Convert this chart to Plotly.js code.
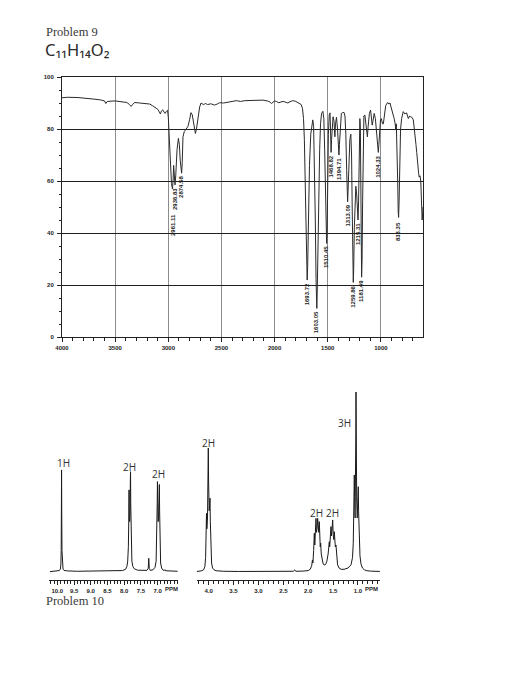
<!DOCTYPE html>
<html>
<head>
<meta charset="utf-8">
<script src="https://cdn.plot.ly/plotly-3.0.1.min.js"></script>
<style>
  html, body { margin: 0; padding: 0; background: #ffffff; }
  #chart { width: 527px; height: 700px; }
</style>
</head>
<body>
<div id="chart"></div>
<script>
// ---------- IR spectrum (Problem 9) ----------
const irWavenumber = [
  4000, 3950, 3850, 3760, 3700, 3640, 3600, 3588, 3575, 3500, 3430, 3390, 3365, 3350, 3335, 3315,
  3270, 3220, 3175, 3150, 3125, 3100, 3085, 3075, 3065, 3052, 3040, 3030, 3018, 3007, 3000, 2990,
  2980, 2970, 2961.11, 2955, 2950, 2945, 2936.83, 2930, 2918, 2905, 2896, 2888, 2880, 2874.58, 2869,
  2862, 2850, 2833, 2815, 2800, 2787, 2775, 2760, 2745, 2735, 2720, 2705, 2692, 2670, 2650, 2630,
  2600, 2565, 2540, 2518, 2480, 2440, 2400, 2360, 2320, 2280, 2230, 2170, 2110, 2070, 2045, 2030,
  2018, 2000, 1985, 1960, 1940, 1920, 1895, 1875, 1855, 1830, 1805, 1785, 1765, 1750, 1738, 1728,
  1720, 1712, 1705, 1699, 1693.72, 1689, 1682, 1672, 1660, 1650, 1641, 1633, 1625, 1617, 1610, 1606,
  1603.05, 1599, 1594, 1588, 1582, 1576, 1568, 1558, 1546, 1537, 1529, 1521, 1515, 1510.45, 1506,
  1501, 1494, 1486, 1479, 1474, 1468.82, 1464, 1458, 1450, 1441, 1433, 1427, 1418, 1408, 1400,
  1394.71, 1390, 1382, 1372, 1360, 1347, 1338, 1330, 1322, 1316, 1313.09, 1309, 1302, 1292, 1283,
  1276, 1270, 1264, 1259.86, 1256, 1250, 1242, 1236, 1228, 1220, 1215.31, 1210, 1204, 1198, 1193,
  1188, 1184, 1181.49, 1177, 1172, 1166, 1160, 1151, 1140, 1132, 1127, 1120, 1108, 1097, 1088, 1082,
  1075, 1063, 1052, 1040, 1030, 1024.33, 1019, 1011, 1004, 996, 985, 977, 968, 955, 937, 925, 915,
  905, 895, 885, 875, 866, 860, 855, 848, 842, 837, 833.35, 829, 823, 815, 805, 790, 775, 758, 742,
  730, 720, 708, 695, 680, 670, 663, 655, 645, 640, 632, 625, 618, 612, 606, 604
];
const irTransmittance = [
  92.0, 92.2, 92.1, 91.9, 91.5, 91.2, 90.8, 89.8, 90.6, 90.8, 90.6, 90.2, 89.4, 88.7, 89.5, 90.2,
  90.0, 89.8, 89.6, 89.0, 88.2, 87.6, 86.6, 85.8, 86.9, 87.4, 86.5, 86.0, 86.8, 87.2, 84.5, 76.0,
  66.0, 59.0, 57.0, 60.0, 66.0, 62.0, 58.5, 62.0, 72.0, 76.4, 74.0, 68.0, 63.5, 63.0, 67.0,
  77.0, 79.0, 80.0, 81.0, 83.5, 86.3, 85.5, 81.5, 78.3, 80.0, 85.0, 88.5, 90.0, 89.4, 89.8, 89.4,
  89.7, 89.2, 89.6, 90.1, 90.0, 90.4, 90.6, 90.9, 90.6, 90.9, 91.0, 91.2, 91.1, 90.8, 90.4, 89.8,
  90.3, 90.8, 90.6, 90.1, 90.4, 90.6, 90.3, 90.0, 90.5, 90.9, 90.7, 90.3, 90.0, 89.4, 88.0, 84.0,
  76.0, 60.0, 40.0, 26.0, 21.9, 27.0, 44.0, 66.0, 78.0, 82.5, 83.5, 81.0, 68.0, 45.0, 22.0, 13.0,
  11.0, 17.0, 32.0, 48.0, 60.0, 72.0, 82.0, 86.0, 86.8, 84.0, 72.0, 55.0, 42.0, 36.0, 40.0,
  58.0, 78.0, 85.5, 86.2, 80.0, 71.0, 76.0, 83.0, 84.7, 83.0, 77.0, 82.0, 84.5, 80.0, 72.0,
  70.0, 74.0, 82.0, 86.0, 86.3, 86.4, 85.0, 78.0, 64.0, 54.0, 52.0, 56.0, 68.0, 76.0, 78.0,
  70.0, 50.0, 30.0, 21.0, 26.0, 42.0, 54.0, 58.0, 55.0, 48.0, 45.0, 52.0, 72.0, 84.0, 80.0,
  55.0, 32.0, 23.0, 30.0, 52.0, 76.0, 85.0, 85.4, 82.0, 78.0, 77.0, 81.0, 86.0, 87.3, 84.0, 81.5,
  83.0, 86.0, 84.0, 78.0, 72.0, 71.0, 74.0, 81.0, 83.5, 84.0, 82.0, 82.0, 85.0, 89.0, 90.2, 89.6, 90.0,
  88.5, 87.8, 86.0, 84.0, 82.0, 80.0, 82.0, 74.0, 60.0, 48.0, 46.0, 52.0, 70.0, 80.0, 84.0, 86.7, 85.8, 86.2, 84.0,
  85.0, 84.7, 84.5, 83.5, 79.0, 74.0, 71.0, 66.0, 63.0, 61.5, 62.0, 60.0, 52.0, 45.0, 48.0, 50.0
];
const irPeakLabels = ['2961.11', '2936.83', '2874.58', '1693.72', '1603.05', '1510.45', '1468.82',
  '1394.71', '1313.09', '1259.86', '1215.31', '1181.49', '1024.33', '833.35'];
const irTickValues = [4000, 3500, 3000, 2500, 2000, 1500, 1000];
const irTickLabels = ['4000', '3500', '3000', '2500', '2000', '1500', '1000'];
const irYTicks = [0, 20, 40, 60, 80, 100];

// ---------- 1H NMR spectrum (Problem 10), two ppm windows ----------
const nmrLeftPpm = [
  10.22, 10.10, 10.00, 9.94, 9.91, 9.895, 9.885, 9.878, 9.874, 9.869, 9.862, 9.85, 9.83, 9.80, 9.70,
  9.40, 9.00, 8.60, 8.20, 8.05, 7.96, 7.92, 7.895, 7.875, 7.862, 7.855, 7.848, 7.836, 7.826, 7.816,
  7.810, 7.804, 7.792, 7.77, 7.74, 7.70, 7.60, 7.45, 7.32, 7.28, 7.265, 7.25, 7.22, 7.14, 7.08,
  7.045, 7.025, 7.012, 7.005, 6.998, 6.985, 6.973, 6.958, 6.948, 6.94, 6.928, 6.91, 6.88, 6.85,
  6.80, 6.78, 6.76, 6.60, 6.40
];
const nmrLeftInt = [
  0.2, 0.4, 0.5, 0.8, 1.6, 4, 12, 35, 56.7, 35, 12, 4, 1.6, 0.9, 0.6,
  0.4, 0.4, 0.4, 0.5, 0.8, 1.5, 3, 6, 14, 30, 45.6, 30, 28, 32, 50,
  55.7, 38, 14, 6, 3, 1.8, 1.0, 0.8, 0.9, 2, 7.6, 2, 0.9, 1.2, 2.5,
  6, 18, 38, 50.2, 36, 28, 30, 40, 48.6, 34, 14, 5, 2.2, 1.2,
  0.8, 1.3, 0.7, 0.5, 0.4
];
const nmrRightPpm = [
  4.239, 4.20, 4.15, 4.10, 4.075, 4.06, 4.05, 4.042, 4.035, 4.022, 4.012, 4.006, 4.0, 3.988, 3.978,
  3.972, 3.965, 3.952, 3.94, 3.92, 3.89, 3.85, 3.70, 3.40, 3.00, 2.60, 2.30, 2.27, 2.25, 2.10, 2.00,
  1.96, 1.93, 1.915, 1.905, 1.89, 1.877, 1.868, 1.855, 1.843, 1.835, 1.822, 1.81, 1.80, 1.788,
  1.777, 1.768, 1.758, 1.749, 1.738, 1.72, 1.70, 1.68, 1.663, 1.645, 1.625, 1.60, 1.585, 1.576,
  1.568, 1.555, 1.542, 1.532, 1.52, 1.508, 1.498, 1.487, 1.476, 1.466, 1.455, 1.442, 1.43, 1.41,
  1.38, 1.34, 1.28, 1.20, 1.14, 1.11, 1.095, 1.085, 1.078, 1.074, 1.068, 1.058, 1.05, 1.044, 1.04,
  1.036, 1.026, 1.015, 1.005, 0.998, 0.994, 0.988, 0.975, 0.96, 0.94, 0.91, 0.87, 0.82, 0.75, 0.65, 0.56
];
const nmrRightInt = [
  0.3, 0.4, 0.6, 1.2, 3, 8, 20, 32.6, 24, 30, 55, 68.9, 50, 34, 38,
  41, 28, 12, 5, 2.2, 1.2, 0.7, 0.4, 0.3, 0.3, 0.3, 0.4, 1.2, 0.4, 0.5, 0.8,
  1.5, 3.5, 6.7, 5, 12, 21.5, 15, 22, 29.8, 22, 24, 29.8, 22, 22,
  28, 20, 14, 16, 10, 6, 4.5, 4, 3.9, 4.5, 6, 10, 14, 16.8,
  14, 20, 25.2, 20, 24, 28.9, 21, 18, 22.4, 16, 14, 15, 9, 4,
  2.2, 1.5, 1.5, 2.2, 4, 8, 16, 30, 46, 53.9, 42, 30, 45, 75, 100,
  70, 40, 30, 36, 44, 47.4, 34, 18, 9, 4.5, 2.2, 1.2, 0.7, 0.5, 0.4, 0.3
];
const nmrLeftTicks = [10.0, 9.5, 9.0, 8.5, 8.0, 7.5, 7.0];
const nmrLeftTickLabels = ['10.0', '9.5', '9.0', '8.5', '8.0', '7.5', '7.0'];
const nmrRightTicks = [4.0, 3.5, 3.0, 2.5, 2.0, 1.5, 1.0];
const nmrRightTickLabels = ['4.0', '3.5', '3.0', '2.5', '2.0', '1.5', '1.0'];
const nmrLeftIntegrals = ['1H', '2H', '2H'];
const nmrRightIntegrals = ['2H', '2H', '2H', '3H'];

// ---------- geometry helpers (page is 527 x 700 px) ----------
const W = 527, H = 700;
const px = v => v / W;
const py = v => 1 - v / H;

const INK = '#222222';
const tinyBold = { family: 'Liberation Sans, Arial, sans-serif', size: 6, weight: 'bold', color: INK };

const traces = [
  {
    x: irWavenumber, y: irTransmittance, xaxis: 'x', yaxis: 'y',
    type: 'scatter', mode: 'lines', line: { color: '#2a2a2a', width: 1 }, hoverinfo: 'skip'
  },
  {
    x: nmrLeftPpm, y: nmrLeftInt, xaxis: 'x2', yaxis: 'y2',
    type: 'scatter', mode: 'lines', line: { color: '#1a1a1a', width: 1 }, hoverinfo: 'skip'
  },
  {
    x: nmrRightPpm, y: nmrRightInt, xaxis: 'x3', yaxis: 'y3',
    type: 'scatter', mode: 'lines', line: { color: '#1a1a1a', width: 1 }, hoverinfo: 'skip'
  }
];

// IR frame: 4000 cm-1 sits on the left edge, ~604 cm-1 on the right edge
const irLeft = 62, irRight = 423, irTop = 77, irBottom = 337;
const irXRange = [4000, 604];
const irPxPerCm = (irRight - irLeft) / (irXRange[0] - irXRange[1]);
const irPxPerT = (irBottom - irTop) / 100;

// IR peak labels: rotated text hanging just below each band minimum,
// stacked downward when two neighbouring labels would collide.
const labelLenT = 24 / irPxPerT;
const placed = [];
const irLabelInfo = irPeakLabels.map(s => {
  const w = parseFloat(s);
  const i = irWavenumber.indexOf(w);
  return { s, w, t: irTransmittance[i], xpx: irLeft + (irXRange[0] - w) * irPxPerCm };
}).sort((a, b) => b.t - a.t);
const irAnnotations = irLabelInfo.map(p => {
  let top = p.t - 0.8;
  placed.forEach(q => {
    if (Math.abs(q.xpx - p.xpx) < 6 && top > q.bottom && top - labelLenT < q.top) {
      top = q.bottom - 0.6;
    }
  });
  const bottom = top - labelLenT;
  placed.push({ xpx: p.xpx, top, bottom });
  return {
    x: p.w, y: (top + bottom) / 2, xref: 'x', yref: 'y', text: p.s, textangle: -90,
    showarrow: false, xanchor: 'center', yanchor: 'middle',
    font: { family: 'Liberation Sans, Arial, sans-serif', size: 6, weight: 'bold', color: INK }
  };
});

// Integration labels over the NMR multiplets
const labelFont = { family: 'Open Sans, DejaVu Sans, sans-serif', size: 10, color: '#333333' };
const leftSpots = [[9.82, 60.4], [7.85, 58.2], [6.98, 54.3]];
const rightSpots = [[4.006, 71.5], [1.843, 33], [1.508, 33], [1.261, 82.6]];
const nmrAnnotations = [
  ...nmrLeftIntegrals.map((t, i) => ({
    x: leftSpots[i][0], y: leftSpots[i][1], xref: 'x2', yref: 'y2', text: t,
    showarrow: false, xanchor: 'center', yanchor: 'middle', font: labelFont
  })),
  ...nmrRightIntegrals.map((t, i) => ({
    x: rightSpots[i][0], y: rightSpots[i][1], xref: 'x3', yref: 'y3', text: t,
    showarrow: false, xanchor: 'center', yanchor: 'middle', font: labelFont
  })),
  { x: 6.58, y: py(589), xref: 'x2', yref: 'paper', text: 'PPM', showarrow: false,
    xanchor: 'center', yanchor: 'middle', font: tinyBold },
  { x: 0.72, y: py(589), xref: 'x3', yref: 'paper', text: 'PPM', showarrow: false,
    xanchor: 'center', yanchor: 'middle', font: tinyBold }
];

const headingFont = { family: 'Liberation Serif, Times New Roman, serif', size: 12.5, color: '#3a3a3a' };
const textAnnotations = [
  { x: px(44), y: py(31.5), xref: 'paper', yref: 'paper', text: 'Problem 9', showarrow: false,
    xanchor: 'left', yanchor: 'middle', font: headingFont },
  { x: px(43), y: py(50), xref: 'paper', yref: 'paper',
    text: 'C\u2081\u2081H\u2081\u2084O\u2082',
    showarrow: false, xanchor: 'left', yanchor: 'middle',
    font: { family: 'Noto Sans, DejaVu Sans, sans-serif', size: 16.5, color: '#2a2a2a' } },
  { x: px(44), y: py(601), xref: 'paper', yref: 'paper', text: 'Problem 10', showarrow: false,
    xanchor: 'left', yanchor: 'middle', font: headingFont }
];

const nmrYRange = [-8 / 1.8, 100];
const nmrAxis = (domain, range, ticks, labels, anchor) => ({
  domain, range, anchor,
  tickmode: 'array', tickvals: ticks, ticktext: labels,
  ticks: 'outside', ticklen: 4, tickwidth: 1, tickcolor: INK,
  minor: { dtick: 0.1, tick0: 0, ticks: 'outside', ticklen: 2.5, tickwidth: 1, tickcolor: INK, showgrid: false },
  showline: true, linecolor: INK, linewidth: 1,
  showgrid: false, zeroline: false, tickfont: tinyBold, ticklabelstandoff: 1
});

const layout = {
  width: W, height: H,
  margin: { l: 0, r: 0, t: 0, b: 0 },
  paper_bgcolor: '#ffffff', plot_bgcolor: 'rgba(0,0,0,0)',
  showlegend: false,
  xaxis: {
    domain: [px(irLeft), px(irRight)], range: irXRange, anchor: 'y',
    tickmode: 'array', tickvals: irTickValues, ticktext: irTickLabels,
    ticks: 'outside', ticklen: 4, tickwidth: 1, tickcolor: INK,
    minor: { dtick: 100, tick0: 0, ticks: 'outside', ticklen: 2.5, tickwidth: 1, tickcolor: INK, showgrid: false },
    showgrid: true, gridcolor: '#8c8c8c', gridwidth: 1,
    zeroline: false, showline: true, mirror: true, linecolor: INK, linewidth: 1,
    tickfont: tinyBold, ticklabelstandoff: 1
  },
  yaxis: {
    domain: [py(irBottom), py(irTop)], range: [0, 100], anchor: 'x',
    tickmode: 'array', tickvals: irYTicks,
    ticks: 'outside', ticklen: 4, tickwidth: 1, tickcolor: INK,
    minor: { dtick: 5, tick0: 0, ticks: 'outside', ticklen: 2.5, tickwidth: 1, tickcolor: INK, showgrid: false },
    showgrid: true, gridcolor: '#1e1e1e', gridwidth: 1,
    showline: true, mirror: true, linecolor: INK, linewidth: 1, zeroline: false,
    tickfont: tinyBold, ticklabelstandoff: 2
  },
  xaxis2: nmrAxis([px(49), px(178)], [10.25, 6.39], nmrLeftTicks, nmrLeftTickLabels, 'y2'),
  yaxis2: { domain: [py(580), py(392)], range: nmrYRange, anchor: 'x2', visible: false },
  xaxis3: nmrAxis([px(196.7), px(380)], [4.239, 0.558], nmrRightTicks, nmrRightTickLabels, 'y3'),
  yaxis3: { domain: [py(580), py(392)], range: nmrYRange, anchor: 'x3', visible: false },
  annotations: [...textAnnotations, ...irAnnotations, ...nmrAnnotations]
};

Plotly.newPlot('chart', traces, layout, { staticPlot: true, displayModeBar: false });
</script>
</body>
</html>
